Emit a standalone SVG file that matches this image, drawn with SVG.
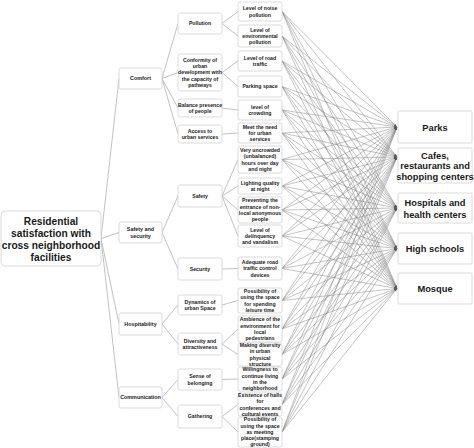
<svg xmlns="http://www.w3.org/2000/svg" width="474" height="448" viewBox="0 0 474 448">
<style>
.b{fill:#fff;stroke:#d2d2d2;stroke-width:0.8}
.t{font-family:"Liberation Sans",Arial,sans-serif;font-weight:bold;fill:#1a1a1a;text-anchor:middle}
.s{font-size:5.2px}
.m{font-size:5.4px}
.r{font-size:9.3px}
.tr{stroke:#a8a8a8;stroke-width:0.7;fill:none}
.x line{stroke:#7a7a7a;stroke-width:0.45}
</style>
<defs>
<marker id="ah" markerUnits="userSpaceOnUse" markerWidth="3" markerHeight="2.4" refX="3" refY="1.2" orient="auto">
<path d="M0,0.3 L3,1.2 L0,2.1 Z" fill="#555"/>
</marker>
</defs>
<rect width="474" height="448" fill="#fff"/>
<g id="connectors">
<g class="tr">
<line x1="101" y1="238.5" x2="119" y2="78.5"/>
<line x1="101" y1="238.5" x2="119" y2="232.5"/>
<line x1="101" y1="238.5" x2="119" y2="324"/>
<line x1="101" y1="238.5" x2="119" y2="397.5"/>
<line x1="162" y1="78.5" x2="178" y2="23.5"/>
<line x1="162" y1="78.5" x2="178" y2="72.5"/>
<line x1="162" y1="78.5" x2="178" y2="108"/>
<line x1="162" y1="78.5" x2="178" y2="134"/>
<line x1="162" y1="232.5" x2="178" y2="196"/>
<line x1="162" y1="232.5" x2="178" y2="269"/>
<line x1="162" y1="324" x2="178" y2="305"/>
<line x1="162" y1="324" x2="178" y2="344"/>
<line x1="162" y1="397.5" x2="178" y2="379.5"/>
<line x1="162" y1="397.5" x2="178" y2="416.5"/>
<line x1="222" y1="23.5" x2="238" y2="11.5"/>
<line x1="222" y1="23.5" x2="238" y2="36"/>
<line x1="222" y1="72.5" x2="238" y2="61"/>
<line x1="222" y1="72.5" x2="238" y2="86.5"/>
<line x1="222" y1="108" x2="238" y2="110"/>
<line x1="222" y1="134" x2="238" y2="133"/>
<line x1="222" y1="196" x2="238" y2="159.5"/>
<line x1="222" y1="196" x2="238" y2="186"/>
<line x1="222" y1="196" x2="238" y2="210"/>
<line x1="222" y1="196" x2="238" y2="236"/>
<line x1="222" y1="269" x2="238" y2="268.5"/>
<line x1="222" y1="305" x2="238" y2="300.5"/>
<line x1="222" y1="344" x2="238" y2="329"/>
<line x1="222" y1="344" x2="238" y2="354.5"/>
<line x1="222" y1="379.5" x2="238" y2="379"/>
<line x1="222" y1="416.5" x2="238" y2="404.5"/>
<line x1="222" y1="416.5" x2="238" y2="432"/>
</g>
<g class="x">
<line x1="282" y1="11.5" x2="397" y2="127" marker-end="url(#ah)"/><line x1="282" y1="11.5" x2="397" y2="157" marker-end="url(#ah)"/><line x1="282" y1="11.5" x2="397" y2="208" marker-end="url(#ah)"/><line x1="282" y1="11.5" x2="397" y2="248.5" marker-end="url(#ah)"/><line x1="282" y1="11.5" x2="397" y2="288.5" marker-end="url(#ah)"/>
<line x1="282" y1="36" x2="397" y2="127" marker-end="url(#ah)"/><line x1="282" y1="36" x2="397" y2="157" marker-end="url(#ah)"/><line x1="282" y1="36" x2="397" y2="208" marker-end="url(#ah)"/><line x1="282" y1="36" x2="397" y2="248.5" marker-end="url(#ah)"/><line x1="282" y1="36" x2="397" y2="288.5" marker-end="url(#ah)"/>
<line x1="282" y1="61" x2="397" y2="127" marker-end="url(#ah)"/><line x1="282" y1="61" x2="397" y2="157" marker-end="url(#ah)"/><line x1="282" y1="61" x2="397" y2="208" marker-end="url(#ah)"/><line x1="282" y1="61" x2="397" y2="248.5" marker-end="url(#ah)"/><line x1="282" y1="61" x2="397" y2="288.5" marker-end="url(#ah)"/>
<line x1="282" y1="86.5" x2="397" y2="127" marker-end="url(#ah)"/><line x1="282" y1="86.5" x2="397" y2="157" marker-end="url(#ah)"/><line x1="282" y1="86.5" x2="397" y2="208" marker-end="url(#ah)"/><line x1="282" y1="86.5" x2="397" y2="248.5" marker-end="url(#ah)"/><line x1="282" y1="86.5" x2="397" y2="288.5" marker-end="url(#ah)"/>
<line x1="282" y1="110" x2="397" y2="127" marker-end="url(#ah)"/><line x1="282" y1="110" x2="397" y2="157" marker-end="url(#ah)"/><line x1="282" y1="110" x2="397" y2="208" marker-end="url(#ah)"/><line x1="282" y1="110" x2="397" y2="248.5" marker-end="url(#ah)"/><line x1="282" y1="110" x2="397" y2="288.5" marker-end="url(#ah)"/>
<line x1="282" y1="133" x2="397" y2="127" marker-end="url(#ah)"/><line x1="282" y1="133" x2="397" y2="157" marker-end="url(#ah)"/><line x1="282" y1="133" x2="397" y2="208" marker-end="url(#ah)"/><line x1="282" y1="133" x2="397" y2="248.5" marker-end="url(#ah)"/><line x1="282" y1="133" x2="397" y2="288.5" marker-end="url(#ah)"/>
<line x1="282" y1="159.5" x2="397" y2="127" marker-end="url(#ah)"/><line x1="282" y1="159.5" x2="397" y2="157" marker-end="url(#ah)"/><line x1="282" y1="159.5" x2="397" y2="208" marker-end="url(#ah)"/><line x1="282" y1="159.5" x2="397" y2="248.5" marker-end="url(#ah)"/><line x1="282" y1="159.5" x2="397" y2="288.5" marker-end="url(#ah)"/>
<line x1="282" y1="186" x2="397" y2="127" marker-end="url(#ah)"/><line x1="282" y1="186" x2="397" y2="157" marker-end="url(#ah)"/><line x1="282" y1="186" x2="397" y2="208" marker-end="url(#ah)"/><line x1="282" y1="186" x2="397" y2="248.5" marker-end="url(#ah)"/><line x1="282" y1="186" x2="397" y2="288.5" marker-end="url(#ah)"/>
<line x1="282" y1="210" x2="397" y2="127" marker-end="url(#ah)"/><line x1="282" y1="210" x2="397" y2="157" marker-end="url(#ah)"/><line x1="282" y1="210" x2="397" y2="208" marker-end="url(#ah)"/><line x1="282" y1="210" x2="397" y2="248.5" marker-end="url(#ah)"/><line x1="282" y1="210" x2="397" y2="288.5" marker-end="url(#ah)"/>
<line x1="282" y1="236" x2="397" y2="127" marker-end="url(#ah)"/><line x1="282" y1="236" x2="397" y2="157" marker-end="url(#ah)"/><line x1="282" y1="236" x2="397" y2="208" marker-end="url(#ah)"/><line x1="282" y1="236" x2="397" y2="248.5" marker-end="url(#ah)"/><line x1="282" y1="236" x2="397" y2="288.5" marker-end="url(#ah)"/>
<line x1="282" y1="268.5" x2="397" y2="127" marker-end="url(#ah)"/><line x1="282" y1="268.5" x2="397" y2="157" marker-end="url(#ah)"/><line x1="282" y1="268.5" x2="397" y2="208" marker-end="url(#ah)"/><line x1="282" y1="268.5" x2="397" y2="248.5" marker-end="url(#ah)"/><line x1="282" y1="268.5" x2="397" y2="288.5" marker-end="url(#ah)"/>
<line x1="282" y1="300.5" x2="397" y2="127" marker-end="url(#ah)"/><line x1="282" y1="300.5" x2="397" y2="157" marker-end="url(#ah)"/><line x1="282" y1="300.5" x2="397" y2="208" marker-end="url(#ah)"/><line x1="282" y1="300.5" x2="397" y2="248.5" marker-end="url(#ah)"/><line x1="282" y1="300.5" x2="397" y2="288.5" marker-end="url(#ah)"/>
<line x1="282" y1="329" x2="397" y2="127" marker-end="url(#ah)"/><line x1="282" y1="329" x2="397" y2="157" marker-end="url(#ah)"/><line x1="282" y1="329" x2="397" y2="208" marker-end="url(#ah)"/><line x1="282" y1="329" x2="397" y2="248.5" marker-end="url(#ah)"/><line x1="282" y1="329" x2="397" y2="288.5" marker-end="url(#ah)"/>
<line x1="282" y1="354.5" x2="397" y2="127" marker-end="url(#ah)"/><line x1="282" y1="354.5" x2="397" y2="157" marker-end="url(#ah)"/><line x1="282" y1="354.5" x2="397" y2="208" marker-end="url(#ah)"/><line x1="282" y1="354.5" x2="397" y2="248.5" marker-end="url(#ah)"/><line x1="282" y1="354.5" x2="397" y2="288.5" marker-end="url(#ah)"/>
<line x1="282" y1="379" x2="397" y2="127" marker-end="url(#ah)"/><line x1="282" y1="379" x2="397" y2="157" marker-end="url(#ah)"/><line x1="282" y1="379" x2="397" y2="208" marker-end="url(#ah)"/><line x1="282" y1="379" x2="397" y2="248.5" marker-end="url(#ah)"/><line x1="282" y1="379" x2="397" y2="288.5" marker-end="url(#ah)"/>
<line x1="282" y1="404.5" x2="397" y2="127" marker-end="url(#ah)"/><line x1="282" y1="404.5" x2="397" y2="157" marker-end="url(#ah)"/><line x1="282" y1="404.5" x2="397" y2="208" marker-end="url(#ah)"/><line x1="282" y1="404.5" x2="397" y2="248.5" marker-end="url(#ah)"/><line x1="282" y1="404.5" x2="397" y2="288.5" marker-end="url(#ah)"/>
<line x1="282" y1="432" x2="397" y2="127" marker-end="url(#ah)"/><line x1="282" y1="432" x2="397" y2="157" marker-end="url(#ah)"/><line x1="282" y1="432" x2="397" y2="208" marker-end="url(#ah)"/><line x1="282" y1="432" x2="397" y2="248.5" marker-end="url(#ah)"/><line x1="282" y1="432" x2="397" y2="288.5" marker-end="url(#ah)"/>
</g>
</g>

<g id="root"><rect class="b" x="1" y="211" width="100" height="55" rx="4"/>
<text class="t" x="51" y="224.5" font-size="10.2"><tspan x="51">Residential</tspan><tspan x="51" dy="12">satisfaction with</tspan><tspan x="51" dy="12">cross neighborhood</tspan><tspan x="51" dy="12">facilities</tspan></text></g>

<g id="comfort"><rect class="b" x="119" y="68" width="43" height="21" rx="2"/><text class="t m" x="140.5" y="80.4">Comfort</text></g>
<g id="safety-security"><rect class="b" x="119" y="222" width="43" height="21" rx="2"/><text class="t m" x="140.5" y="231.2"><tspan x="140.5">Safety and</tspan><tspan x="140.5" dy="6.3">security</tspan></text></g>
<g id="hospitability"><rect class="b" x="119" y="313" width="43" height="22" rx="2"/><text class="t m" x="140.5" y="325.9">Hospitability</text></g>
<g id="communication"><rect class="b" x="119" y="387" width="43" height="21" rx="2"/><text class="t m" x="140.5" y="399.4">Communication</text></g>

<g id="pollution"><rect class="b" x="178" y="13" width="44" height="21" rx="2"/><text class="t s" x="200" y="25.3">Pollution</text></g>
<g id="conformity"><rect class="b" x="178" y="54" width="44" height="37" rx="2"/><text class="t s" x="200" y="61.7"><tspan x="200">Conformity of</tspan><tspan x="200" dy="6.3">urban</tspan><tspan x="200" dy="6.3">development with</tspan><tspan x="200" dy="6.3">the capacity of</tspan><tspan x="200" dy="6.3">pathways</tspan></text></g>
<g id="balance"><rect class="b" x="178" y="99" width="44" height="18" rx="2"/><text class="t s" x="200" y="106.7"><tspan x="200">Balance presence</tspan><tspan x="200" dy="6.3">of people</tspan></text></g>
<g id="access"><rect class="b" x="178" y="125" width="44" height="18" rx="2"/><text class="t s" x="200" y="132.7"><tspan x="200">Access to</tspan><tspan x="200" dy="6.3">urban services</tspan></text></g>
<g id="safety"><rect class="b" x="178" y="185" width="44" height="22" rx="2"/><text class="t s" x="200" y="197.8">Safety</text></g>
<g id="security"><rect class="b" x="178" y="258" width="44" height="22" rx="2"/><text class="t s" x="200" y="270.8">Security</text></g>
<g id="dynamics"><rect class="b" x="178" y="295" width="44" height="20" rx="2"/><text class="t s" x="200" y="303.7"><tspan x="200">Dynamics of</tspan><tspan x="200" dy="6.3">urban Space</tspan></text></g>
<g id="diversity"><rect class="b" x="178" y="333" width="44" height="22" rx="2"/><text class="t s" x="200" y="342.7"><tspan x="200">Diversity and</tspan><tspan x="200" dy="6.3">attractiveness</tspan></text></g>
<g id="belonging"><rect class="b" x="178" y="369" width="44" height="21" rx="2"/><text class="t s" x="200" y="378.2"><tspan x="200">Sense of</tspan><tspan x="200" dy="6.3">belonging</tspan></text></g>
<g id="gathering"><rect class="b" x="178" y="405" width="44" height="23" rx="2"/><text class="t s" x="200" y="418.3">Gathering</text></g>

<g id="i1"><rect class="b" x="238" y="2" width="44" height="19" rx="2"/><text class="t s" x="260" y="10.2"><tspan x="260">Level of noise</tspan><tspan x="260" dy="6.3">pollution</tspan></text></g>
<g id="i2"><rect class="b" x="238" y="25" width="44" height="22" rx="2"/><text class="t s" x="260" y="31.5"><tspan x="260">Level of</tspan><tspan x="260" dy="6.3">environmental</tspan><tspan x="260" dy="6.3">pollution</tspan></text></g>
<g id="i3"><rect class="b" x="238" y="51" width="44" height="20" rx="2"/><text class="t s" x="260" y="59.7"><tspan x="260">Level of road</tspan><tspan x="260" dy="6.3">traffic</tspan></text></g>
<g id="i4"><rect class="b" x="238" y="76" width="44" height="21" rx="2"/><text class="t s" x="260" y="88.3">Parking space</text></g>
<g id="i5"><rect class="b" x="238" y="100" width="44" height="20" rx="2"/><text class="t s" x="260" y="108.7"><tspan x="260">level of</tspan><tspan x="260" dy="6.3">crowding</tspan></text></g>
<g id="i6"><rect class="b" x="238" y="123" width="44" height="20" rx="2"/><text class="t s" x="260" y="128.5"><tspan x="260">Meet the need</tspan><tspan x="260" dy="6.3">for urban</tspan><tspan x="260" dy="6.3">services</tspan></text></g>
<g id="i7"><rect class="b" x="238" y="146" width="44" height="27" rx="2"/><text class="t s" x="260" y="151.9"><tspan x="260">Very uncrowded</tspan><tspan x="260" dy="6.3">(unbalanced)</tspan><tspan x="260" dy="6.3">hours over day</tspan><tspan x="260" dy="6.3">and night</tspan></text></g>
<g id="i8"><rect class="b" x="238" y="178" width="44" height="16" rx="2"/><text class="t s" x="260" y="184.7"><tspan x="260">Lighting quality</tspan><tspan x="260" dy="6.3">at night</tspan></text></g>
<g id="i9"><rect class="b" x="238" y="197" width="44" height="26" rx="2"/><text class="t s" x="260" y="202.4"><tspan x="260">Preventing the</tspan><tspan x="260" dy="6.3">entrance of non-</tspan><tspan x="260" dy="6.3">local anonymous</tspan><tspan x="260" dy="6.3">people</tspan></text></g>
<g id="i10"><rect class="b" x="238" y="225" width="44" height="22" rx="2"/><text class="t s" x="260" y="231.5"><tspan x="260">Level of</tspan><tspan x="260" dy="6.3">delinquency</tspan><tspan x="260" dy="6.3">and vandalism</tspan></text></g>
<g id="i11"><rect class="b" x="238" y="257" width="44" height="23" rx="2"/><text class="t s" x="260" y="264"><tspan x="260">Adequate road</tspan><tspan x="260" dy="6.3">traffic control</tspan><tspan x="260" dy="6.3">devices</tspan></text></g>
<g id="i12"><rect class="b" x="238" y="288" width="44" height="25" rx="2"/><text class="t s" x="260" y="292.9"><tspan x="260">Possibility of</tspan><tspan x="260" dy="6.3">using the space</tspan><tspan x="260" dy="6.3">for spending</tspan><tspan x="260" dy="6.3">leisure time</tspan></text></g>
<g id="i13"><rect class="b" x="238" y="316" width="44" height="26" rx="2"/><text class="t s" x="260" y="321.4"><tspan x="260">Ambience of the</tspan><tspan x="260" dy="6.3">environment for</tspan><tspan x="260" dy="6.3">local</tspan><tspan x="260" dy="6.3">pedestrians</tspan></text></g>
<g id="i14"><rect class="b" x="238" y="343" width="44" height="23" rx="2"/><text class="t s" x="260" y="346.9"><tspan x="260">Making diversity</tspan><tspan x="260" dy="6.3">in urban</tspan><tspan x="260" dy="6.3">physical</tspan><tspan x="260" dy="6.3">structure</tspan></text></g>
<g id="i15"><rect class="b" x="238" y="367" width="44" height="24" rx="2"/><text class="t s" x="260" y="371.4"><tspan x="260">Willingness to</tspan><tspan x="260" dy="6.3">continue living</tspan><tspan x="260" dy="6.3">in the</tspan><tspan x="260" dy="6.3">neighborhood</tspan></text></g>
<g id="i16"><rect class="b" x="238" y="393" width="44" height="23" rx="2"/><text class="t s" x="260" y="396.9"><tspan x="260">Existence of halls</tspan><tspan x="260" dy="6.3">for</tspan><tspan x="260" dy="6.3">conferences and</tspan><tspan x="260" dy="6.3">cultural events</tspan></text></g>
<g id="i17"><rect class="b" x="238" y="417" width="44" height="30" rx="2"/><text class="t s" x="260" y="421.2"><tspan x="260">Possibility of</tspan><tspan x="260" dy="6.3">using the space</tspan><tspan x="260" dy="6.3">as meeting</tspan><tspan x="260" dy="6.3">place(stamping</tspan><tspan x="260" dy="6.3">ground)</tspan></text></g>

<g id="parks"><rect class="b" x="398" y="111" width="74" height="32" rx="1"/><text class="t r" x="435" y="130.5">Parks</text></g>
<g id="cafes"><rect class="b" x="398" y="148" width="74" height="35" rx="1"/><text class="t r" x="435" y="158.5"><tspan x="435">Cafes,</tspan><tspan x="435" dy="10.5">restaurants and</tspan><tspan x="435" dy="10.5">shopping centers</tspan></text></g>
<g id="hospitals"><rect class="b" x="398" y="193" width="74" height="30" rx="1"/><text class="t r" x="435" y="205.5"><tspan x="435">Hospitals and</tspan><tspan x="435" dy="12">health centers</tspan></text></g>
<g id="highschools"><rect class="b" x="398" y="233" width="74" height="31" rx="1"/><text class="t r" x="435" y="251.8">High schools</text></g>
<g id="mosque"><rect class="b" x="398" y="273" width="74" height="31" rx="1"/><text class="t r" x="435" y="292">Mosque</text></g>
</svg>
